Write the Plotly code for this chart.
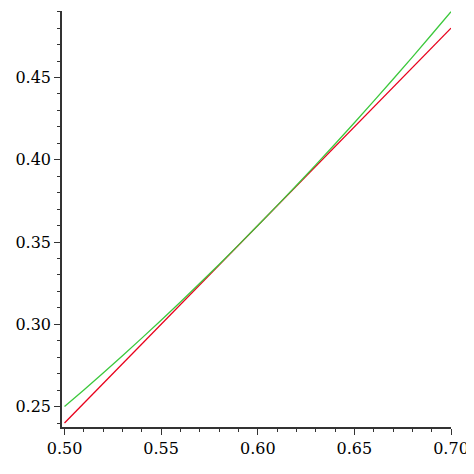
import plotly.graph_objects as go

# green curve
green_x = [0.50, 0.51, 0.52, 0.53, 0.54, 0.55, 0.56, 0.57, 0.58, 0.59, 0.60,
           0.61, 0.62, 0.63, 0.64, 0.65, 0.66, 0.67, 0.68, 0.69, 0.70]
green_y = [0.2500, 0.2601, 0.2704, 0.2809, 0.2916, 0.3025, 0.3136, 0.3249, 0.3364, 0.3481, 0.3600,
           0.3721, 0.3844, 0.3969, 0.4096, 0.4225, 0.4356, 0.4489, 0.4624, 0.4761, 0.4900]

# red straight line
red_x = [0.50, 0.70]
red_y = [0.24, 0.48]

x_ticks = [0.50, 0.55, 0.60, 0.65, 0.70]
x_labels = ["0.50", "0.55", "0.60", "0.65", "0.70"]
y_ticks = [0.25, 0.30, 0.35, 0.40, 0.45]
y_labels = ["0.25", "0.30", "0.35", "0.40", "0.45"]

fig = go.Figure()
fig.add_trace(go.Scatter(x=red_x, y=red_y, mode="lines",
                         line=dict(color="#e8001c", width=1.3)))
fig.add_trace(go.Scatter(x=green_x, y=green_y, mode="lines", line_shape="spline",
                         line=dict(color="#3cc83c", width=1.3)))

axis_style = dict(
    showline=True, linecolor="#333333", linewidth=1.5,
    ticks="outside", ticklen=6, tickwidth=1.3, tickcolor="#333333",
    showgrid=False, zeroline=False,
    tickfont=dict(family="DejaVu Serif", size=16, color="black"),
)

# page body adds ~8px, so the figure is a bit smaller than the window
fig.update_layout(
    width=466, height=466,
    margin=dict(l=54, r=23, t=3, b=47),
    plot_bgcolor="white", paper_bgcolor="white",
    showlegend=False,
    xaxis=dict(range=[0.4987, 0.70], tickvals=x_ticks, ticktext=x_labels,
               minor=dict(dtick=0.01, tick0=0.5, ticks="outside", ticklen=3,
                          tickcolor="#333333", tickwidth=1.2),
               **axis_style),
    yaxis=dict(range=[0.2376, 0.4904], tickvals=y_ticks, ticktext=y_labels,
               minor=dict(dtick=0.01, tick0=0.25, ticks="outside", ticklen=3,
                          tickcolor="#333333", tickwidth=1.2),
               **axis_style),
)

fig.write_html("out.html")
